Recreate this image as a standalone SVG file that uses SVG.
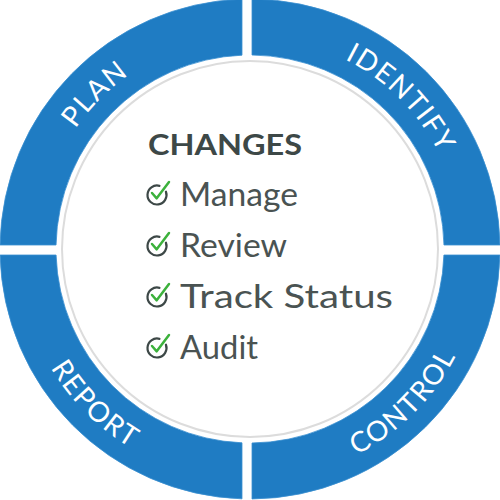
<svg xmlns="http://www.w3.org/2000/svg" xmlns:xlink="http://www.w3.org/1999/xlink" width="500" height="500" viewBox="0 0 500 500">
<style>
.seg{fill:#1f7cc3;stroke:#3a8fd0;stroke-width:0.8}
.lbl{font-family:Lato,"Open Sans","DejaVu Sans",sans-serif;font-size:28px;font-weight:400;fill:#ffffff;letter-spacing:1.5px}
.title{font-family:Lato,"Open Sans","DejaVu Sans",sans-serif;font-size:29px;font-weight:700;fill:#3d4847}
.item{font-family:Lato,"Open Sans","DejaVu Sans",sans-serif;font-size:32px;font-weight:400;fill:#4a5352}
.ring{fill:#ffffff;stroke:#dcdcdc;stroke-width:2}
.ck-c{fill:none;stroke:#3d4847;stroke-width:2.2;stroke-linecap:round}
.ck-m{fill:none;stroke:#3cb13c;stroke-width:2.5;stroke-linecap:round;stroke-linejoin:round}
</style>
<defs>
<path id="topArc" d="M 38 249 A 212 212 0 0 1 462 249"/>
<path id="botArc" d="M 18 249 A 232 232 0 0 0 482 249"/>
<g id="check">
<path class="ck-c" d="M 8.93 -3.25 A 9.5 9.5 0 1 1 2.46 -9.18"/>
<path class="ck-m" d="M -5 -2 L -0.3 3.3 L 12 -13"/>
</g>
</defs>
<rect width="500" height="500" fill="#ffffff"/>
<circle class="ring" cx="250" cy="249" r="188"/>
<g id="plan">
<path class="seg" d="M 0.03 245 A 250 250 0 0 1 242 -0.87 L 242 55.17 A 194 194 0 0 0 56.04 245 Z"/>
<text class="lbl"><textPath xlink:href="#topArc" href="#topArc" startOffset="25%" text-anchor="middle">PLAN</textPath></text>
</g>
<g id="identify">
<path class="seg" d="M 252 -0.99 A 250 250 0 0 1 499.97 245 L 443.96 245 A 194 194 0 0 0 252 55.01 Z"/>
<text class="lbl"><textPath xlink:href="#topArc" href="#topArc" startOffset="75%" text-anchor="middle">IDENTIFY</textPath></text>
</g>
<g id="control">
<path class="seg" d="M 499.93 255 A 250 250 0 0 1 252 498.99 L 252 442.99 A 194 194 0 0 0 443.91 255 Z"/>
<text class="lbl"><textPath xlink:href="#botArc" href="#botArc" startOffset="75%" text-anchor="middle">CONTROL</textPath></text>
</g>
<g id="report">
<path class="seg" d="M 242 498.87 A 250 250 0 0 1 0.07 255 L 56.09 255 A 194 194 0 0 0 242 442.83 Z"/>
<text class="lbl"><textPath xlink:href="#botArc" href="#botArc" startOffset="25%" text-anchor="middle">REPORT</textPath></text>
</g>
<g id="center">
<text class="title" x="148" y="155" textLength="154" lengthAdjust="spacingAndGlyphs">CHANGES</text>
<use href="#check" xlink:href="#check" x="157" y="195"/>
<text class="item" x="180" y="206" textLength="118" lengthAdjust="spacingAndGlyphs">Manage</text>
<use href="#check" xlink:href="#check" x="157" y="246"/>
<text class="item" x="180" y="257" textLength="107" lengthAdjust="spacingAndGlyphs">Review</text>
<use href="#check" xlink:href="#check" x="157" y="297"/>
<text class="item" x="180" y="308" textLength="213" lengthAdjust="spacingAndGlyphs">Track Status</text>
<use href="#check" xlink:href="#check" x="157" y="348"/>
<text class="item" x="180" y="359" textLength="78" lengthAdjust="spacingAndGlyphs">Audit</text>
</g>
</svg>
